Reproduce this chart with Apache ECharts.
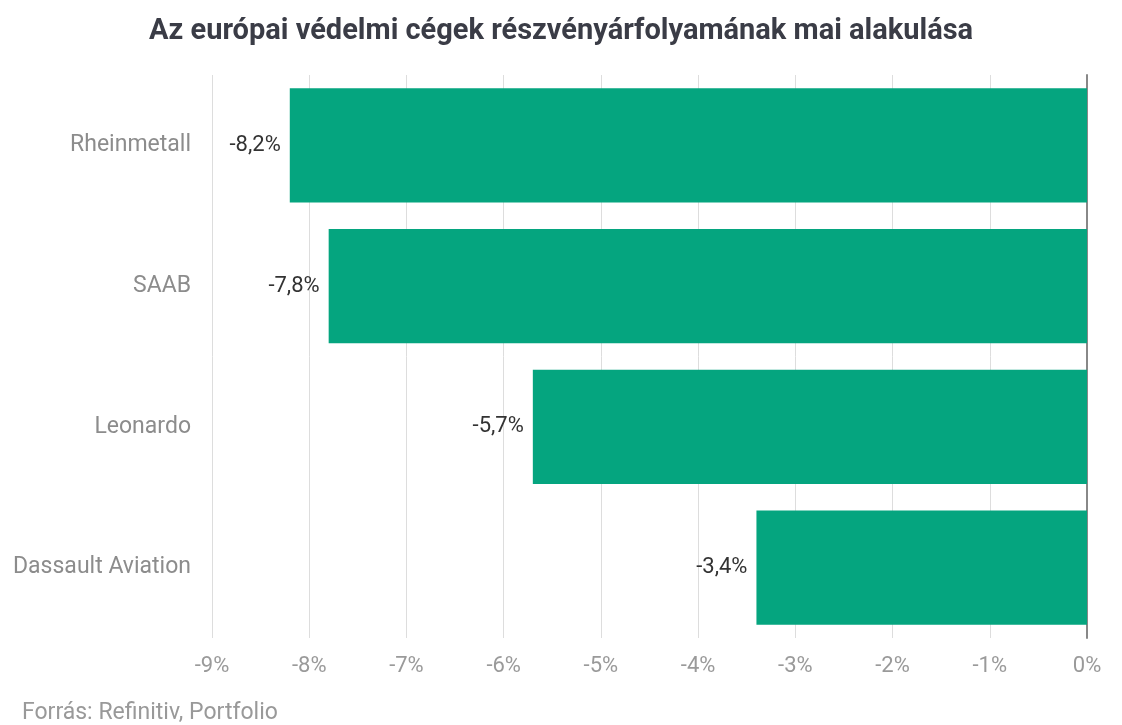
<!DOCTYPE html>
<html>
<head>
<meta charset="utf-8">
<script src="https://cdn.jsdelivr.net/npm/echarts@6/dist/echarts.min.js"></script>
<style>html,body{margin:0;padding:0;background:#fff;}#c{width:1122px;height:725px;}</style>
</head>
<body>
<div id="c"></div>
<script>
const titleText = 'Az európai védelmi cégek részvényárfolyamának mai alakulása';
const sourceText = 'Forrás: Refinitiv, Portfolio';
const categories = ['Rheinmetall', 'SAAB', 'Leonardo', 'Dassault Aviation'];
const values = [-8.2, -7.8, -5.7, -3.4];
const xMin = -9, xMax = 0, xStep = 1;

const chart = echarts.init(document.getElementById('c'));
chart.setOption({
  animation: false,
  backgroundColor: '#ffffff',
  textStyle: { fontFamily: 'Roboto' },
  title: [{
    text: titleText, left: 'center', top: 12,
    textStyle: { fontFamily: 'Roboto', fontWeight: 'bold', fontSize: 29, color: '#3a3c46' }
  }, {
    text: sourceText, left: 17, top: 697,
    textStyle: { fontFamily: 'Roboto', fontWeight: 'normal', fontSize: 23, color: '#999999' }
  }],
  grid: { left: 212, right: 35, top: 75, bottom: 87, containLabel: false },
  xAxis: {
    type: 'value', min: xMin, max: xMax, interval: xStep,
    axisLine: { show: false }, axisTick: { show: false },
    splitLine: { show: true, lineStyle: { color: '#dddddd', width: 1 } },
    axisLabel: { margin: 17, fontSize: 22, color: '#9a9a9a', fontFamily: 'Roboto', formatter: v => v + '%' }
  },
  yAxis: [{
    type: 'category', data: categories, inverse: true, position: 'left',
    axisLine: { show: false }, axisTick: { show: false },
    axisLabel: { margin: 21, fontSize: 23, color: '#8c8c8c', fontFamily: 'Roboto' }
  }, {
    type: 'category', data: categories, inverse: true, position: 'right',
    axisLine: { show: true, onZero: false, lineStyle: { color: '#888888', width: 2 } },
    axisTick: { show: false }, axisLabel: { show: false }
  }],
  series: [{
    type: 'bar', data: values, yAxisIndex: 0,
    barCategoryGap: '19%',
    itemStyle: { color: '#05a57f' },
    label: {
      show: true, position: 'left', distance: 9, fontSize: 22, color: '#333333', fontFamily: 'Roboto',
      formatter: p => String(p.value).replace('.', ',') + '%'
    }
  }]
});
</script>
</body>
</html>
